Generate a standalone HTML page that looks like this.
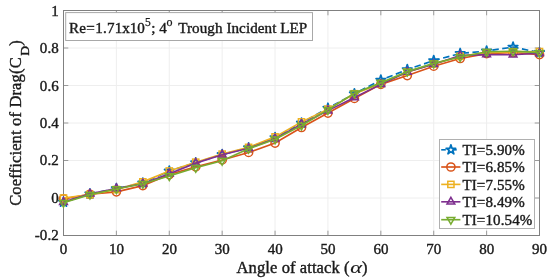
<!DOCTYPE html>
<html lang="en"><head><meta charset="utf-8"><title>Coefficient of Drag vs Angle of attack</title>
<style>html,body{margin:0;padding:0;background:#fff;}body{width:550px;height:280px;overflow:hidden;}svg{display:block;}text{font-family:"Liberation Serif","Times New Roman",serif;fill:#1a1a1a;stroke:#1a1a1a;stroke-width:0.4px;}</style>
</head><body>
<svg width="550" height="280" viewBox="0 0 550 280">
<rect x="0" y="0" width="550" height="280" fill="#ffffff"/>
<g stroke="#eeeeee" stroke-width="1" fill="none">
<line x1="116.39" y1="10.50" x2="116.39" y2="235.50"/>
<line x1="169.28" y1="10.50" x2="169.28" y2="235.50"/>
<line x1="222.17" y1="10.50" x2="222.17" y2="235.50"/>
<line x1="275.06" y1="10.50" x2="275.06" y2="235.50"/>
<line x1="327.94" y1="10.50" x2="327.94" y2="235.50"/>
<line x1="380.83" y1="10.50" x2="380.83" y2="235.50"/>
<line x1="433.72" y1="10.50" x2="433.72" y2="235.50"/>
<line x1="486.61" y1="10.50" x2="486.61" y2="235.50"/>
<line x1="63.50" y1="198.00" x2="539.50" y2="198.00"/>
<line x1="63.50" y1="160.50" x2="539.50" y2="160.50"/>
<line x1="63.50" y1="123.00" x2="539.50" y2="123.00"/>
<line x1="63.50" y1="85.50" x2="539.50" y2="85.50"/>
<line x1="63.50" y1="48.00" x2="539.50" y2="48.00"/>
</g>
<g stroke="#9a9a9a" stroke-width="1" fill="none">
<line x1="63.50" y1="235.50" x2="63.50" y2="230.70"/>
<line x1="63.50" y1="10.50" x2="63.50" y2="15.30"/>
<line x1="116.39" y1="235.50" x2="116.39" y2="230.70"/>
<line x1="116.39" y1="10.50" x2="116.39" y2="15.30"/>
<line x1="169.28" y1="235.50" x2="169.28" y2="230.70"/>
<line x1="169.28" y1="10.50" x2="169.28" y2="15.30"/>
<line x1="222.17" y1="235.50" x2="222.17" y2="230.70"/>
<line x1="222.17" y1="10.50" x2="222.17" y2="15.30"/>
<line x1="275.06" y1="235.50" x2="275.06" y2="230.70"/>
<line x1="275.06" y1="10.50" x2="275.06" y2="15.30"/>
<line x1="327.94" y1="235.50" x2="327.94" y2="230.70"/>
<line x1="327.94" y1="10.50" x2="327.94" y2="15.30"/>
<line x1="380.83" y1="235.50" x2="380.83" y2="230.70"/>
<line x1="380.83" y1="10.50" x2="380.83" y2="15.30"/>
<line x1="433.72" y1="235.50" x2="433.72" y2="230.70"/>
<line x1="433.72" y1="10.50" x2="433.72" y2="15.30"/>
<line x1="486.61" y1="235.50" x2="486.61" y2="230.70"/>
<line x1="486.61" y1="10.50" x2="486.61" y2="15.30"/>
<line x1="539.50" y1="235.50" x2="539.50" y2="230.70"/>
<line x1="539.50" y1="10.50" x2="539.50" y2="15.30"/>
<line x1="63.50" y1="235.50" x2="68.30" y2="235.50"/>
<line x1="539.50" y1="235.50" x2="534.70" y2="235.50"/>
<line x1="63.50" y1="198.00" x2="68.30" y2="198.00"/>
<line x1="539.50" y1="198.00" x2="534.70" y2="198.00"/>
<line x1="63.50" y1="160.50" x2="68.30" y2="160.50"/>
<line x1="539.50" y1="160.50" x2="534.70" y2="160.50"/>
<line x1="63.50" y1="123.00" x2="68.30" y2="123.00"/>
<line x1="539.50" y1="123.00" x2="534.70" y2="123.00"/>
<line x1="63.50" y1="85.50" x2="68.30" y2="85.50"/>
<line x1="539.50" y1="85.50" x2="534.70" y2="85.50"/>
<line x1="63.50" y1="48.00" x2="68.30" y2="48.00"/>
<line x1="539.50" y1="48.00" x2="534.70" y2="48.00"/>
<line x1="63.50" y1="10.50" x2="68.30" y2="10.50"/>
<line x1="539.50" y1="10.50" x2="534.70" y2="10.50"/>
</g>
<rect x="63.5" y="10.5" width="476.0" height="225.0" fill="none" stroke="#808080" stroke-width="1"/>
<g fill="none" stroke-linejoin="miter">
<polyline points="63.50,202.12 89.94,193.88 116.39,188.62 142.83,183.00 169.28,171.00 195.72,162.75 222.17,154.50 248.61,147.75 275.06,137.62 301.50,123.00 327.94,108.19 354.39,93.75 380.83,80.06 407.28,69.56 433.72,60.56 460.17,53.44 486.61,51.00 513.06,47.06 539.50,52.50" stroke="#0072BD" stroke-width="1.65" stroke-dasharray="6.5,3.5" stroke-dashoffset="1.7"/>
<g stroke="#0072BD" stroke-width="1.5">
<polygon stroke-linejoin="round" stroke-width="1.7" points="63.50,197.12 64.59,200.63 68.26,200.58 65.26,202.70 66.44,206.17 63.50,203.97 60.56,206.17 61.74,202.70 58.74,200.58 62.41,200.63"/>
<polygon stroke-linejoin="round" stroke-width="1.7" points="89.94,188.88 91.03,192.38 94.70,192.33 91.70,194.45 92.88,197.92 89.94,195.72 87.01,197.92 88.18,194.45 85.19,192.33 88.86,192.38"/>
<polygon stroke-linejoin="round" stroke-width="1.7" points="116.39,183.62 117.48,187.13 121.14,187.08 118.15,189.20 119.33,192.67 116.39,190.47 113.45,192.67 114.63,189.20 111.63,187.08 115.30,187.13"/>
<polygon stroke-linejoin="round" stroke-width="1.7" points="142.83,178.00 143.92,181.50 147.59,181.45 144.59,183.57 145.77,187.05 142.83,184.85 139.89,187.05 141.07,183.57 138.08,181.45 141.75,181.50"/>
<polygon stroke-linejoin="round" stroke-width="1.7" points="169.28,166.00 170.37,169.50 174.03,169.45 171.04,171.57 172.22,175.05 169.28,172.85 166.34,175.05 167.52,171.57 164.52,169.45 168.19,169.50"/>
<polygon stroke-linejoin="round" stroke-width="1.7" points="195.72,157.75 196.81,161.25 200.48,161.20 197.48,163.32 198.66,166.80 195.72,164.60 192.78,166.80 193.96,163.32 190.97,161.20 194.63,161.25"/>
<polygon stroke-linejoin="round" stroke-width="1.7" points="222.17,149.50 223.25,153.00 226.92,152.95 223.93,155.07 225.11,158.55 222.17,156.35 219.23,158.55 220.41,155.07 217.41,152.95 221.08,153.00"/>
<polygon stroke-linejoin="round" stroke-width="1.7" points="248.61,142.75 249.70,146.25 253.37,146.20 250.37,148.32 251.55,151.80 248.61,149.60 245.67,151.80 246.85,148.32 243.86,146.20 247.52,146.25"/>
<polygon stroke-linejoin="round" stroke-width="1.7" points="275.06,132.62 276.14,136.13 279.81,136.08 276.82,138.20 277.99,141.67 275.06,139.47 272.12,141.67 273.30,138.20 270.30,136.08 273.97,136.13"/>
<polygon stroke-linejoin="round" stroke-width="1.7" points="301.50,118.00 302.59,121.50 306.26,121.45 303.26,123.57 304.44,127.05 301.50,124.85 298.56,127.05 299.74,123.57 296.74,121.45 300.41,121.50"/>
<polygon stroke-linejoin="round" stroke-width="1.7" points="327.94,103.19 329.03,106.69 332.70,106.64 329.70,108.76 330.88,112.23 327.94,110.04 325.01,112.23 326.18,108.76 323.19,106.64 326.86,106.69"/>
<polygon stroke-linejoin="round" stroke-width="1.7" points="354.39,88.75 355.48,92.25 359.14,92.20 356.15,94.32 357.33,97.80 354.39,95.60 351.45,97.80 352.63,94.32 349.63,92.20 353.30,92.25"/>
<polygon stroke-linejoin="round" stroke-width="1.7" points="380.83,75.06 381.92,78.57 385.59,78.52 382.59,80.63 383.77,84.11 380.83,81.91 377.89,84.11 379.07,80.63 376.08,78.52 379.75,78.57"/>
<polygon stroke-linejoin="round" stroke-width="1.7" points="407.28,64.56 408.37,68.07 412.03,68.02 409.04,70.13 410.22,73.61 407.28,71.41 404.34,73.61 405.52,70.13 402.52,68.02 406.19,68.07"/>
<polygon stroke-linejoin="round" stroke-width="1.7" points="433.72,55.56 434.81,59.07 438.48,59.02 435.48,61.13 436.66,64.61 433.72,62.41 430.78,64.61 431.96,61.13 428.97,59.02 432.63,59.07"/>
<polygon stroke-linejoin="round" stroke-width="1.7" points="460.17,48.44 461.25,51.94 464.92,51.89 461.93,54.01 463.11,57.48 460.17,55.29 457.23,57.48 458.41,54.01 455.41,51.89 459.08,51.94"/>
<polygon stroke-linejoin="round" stroke-width="1.7" points="486.61,46.00 487.70,49.50 491.37,49.45 488.37,51.57 489.55,55.05 486.61,52.85 483.67,55.05 484.85,51.57 481.86,49.45 485.52,49.50"/>
<polygon stroke-linejoin="round" stroke-width="1.7" points="513.06,42.06 514.14,45.57 517.81,45.52 514.82,47.63 515.99,51.11 513.06,48.91 510.12,51.11 511.30,47.63 508.30,45.52 511.97,45.57"/>
<polygon stroke-linejoin="round" stroke-width="1.7" points="539.50,47.50 540.59,51.00 544.26,50.95 541.26,53.07 542.44,56.55 539.50,54.35 536.56,56.55 537.74,53.07 534.74,50.95 538.41,51.00"/>
</g>
<polyline points="63.50,198.94 89.94,194.25 116.39,191.81 142.83,185.62 169.28,174.56 195.72,166.88 222.17,159.94 248.61,152.44 275.06,143.06 301.50,127.50 327.94,113.06 354.39,98.44 380.83,84.37 407.28,75.56 433.72,66.19 460.17,58.50 486.61,53.62 513.06,52.50 539.50,54.56" stroke="#D95319" stroke-width="1.65"/>
<g stroke="#D95319" stroke-width="1.5">
<circle cx="63.50" cy="198.94" r="4.10"/>
<circle cx="89.94" cy="194.25" r="4.10"/>
<circle cx="116.39" cy="191.81" r="4.10"/>
<circle cx="142.83" cy="185.62" r="4.10"/>
<circle cx="169.28" cy="174.56" r="4.10"/>
<circle cx="195.72" cy="166.88" r="4.10"/>
<circle cx="222.17" cy="159.94" r="4.10"/>
<circle cx="248.61" cy="152.44" r="4.10"/>
<circle cx="275.06" cy="143.06" r="4.10"/>
<circle cx="301.50" cy="127.50" r="4.10"/>
<circle cx="327.94" cy="113.06" r="4.10"/>
<circle cx="354.39" cy="98.44" r="4.10"/>
<circle cx="380.83" cy="84.37" r="4.10"/>
<circle cx="407.28" cy="75.56" r="4.10"/>
<circle cx="433.72" cy="66.19" r="4.10"/>
<circle cx="460.17" cy="58.50" r="4.10"/>
<circle cx="486.61" cy="53.62" r="4.10"/>
<circle cx="513.06" cy="52.50" r="4.10"/>
<circle cx="539.50" cy="54.56" r="4.10"/>
</g>
<polyline points="63.50,198.00 89.94,194.62 116.39,189.56 142.83,181.88 169.28,171.00 195.72,162.19 222.17,154.12 248.61,147.38 275.06,136.88 301.50,121.87 327.94,109.13 354.39,93.75 380.83,83.62 407.28,72.00 433.72,63.94 460.17,56.25 486.61,52.69 513.06,51.75 539.50,51.56" stroke="#EDB120" stroke-width="1.65"/>
<g stroke="#EDB120" stroke-width="1.5">
<rect x="60.40" y="194.90" width="6.20" height="6.20"/>
<rect x="86.84" y="191.53" width="6.20" height="6.20"/>
<rect x="113.29" y="186.46" width="6.20" height="6.20"/>
<rect x="139.73" y="178.78" width="6.20" height="6.20"/>
<rect x="166.18" y="167.90" width="6.20" height="6.20"/>
<rect x="192.62" y="159.09" width="6.20" height="6.20"/>
<rect x="219.07" y="151.03" width="6.20" height="6.20"/>
<rect x="245.51" y="144.28" width="6.20" height="6.20"/>
<rect x="271.96" y="133.78" width="6.20" height="6.20"/>
<rect x="298.40" y="118.77" width="6.20" height="6.20"/>
<rect x="324.84" y="106.03" width="6.20" height="6.20"/>
<rect x="351.29" y="90.65" width="6.20" height="6.20"/>
<rect x="377.73" y="80.53" width="6.20" height="6.20"/>
<rect x="404.18" y="68.90" width="6.20" height="6.20"/>
<rect x="430.62" y="60.84" width="6.20" height="6.20"/>
<rect x="457.07" y="53.15" width="6.20" height="6.20"/>
<rect x="483.51" y="49.59" width="6.20" height="6.20"/>
<rect x="509.96" y="48.65" width="6.20" height="6.20"/>
<rect x="536.40" y="48.46" width="6.20" height="6.20"/>
</g>
<polyline points="63.50,202.12 89.94,193.88 116.39,188.44 142.83,183.75 169.28,173.81 195.72,163.12 222.17,154.69 248.61,148.31 275.06,138.75 301.50,124.31 327.94,110.62 354.39,97.50 380.83,84.37 407.28,72.00 433.72,64.31 460.17,55.50 486.61,54.56 513.06,54.75 539.50,53.25" stroke="#7E2F8E" stroke-width="1.65"/>
<g stroke="#7E2F8E" stroke-width="1.5">
<polygon points="63.50,197.62 67.40,204.38 59.60,204.38"/>
<polygon points="89.94,189.38 93.84,196.12 86.05,196.12"/>
<polygon points="116.39,183.94 120.29,190.69 112.49,190.69"/>
<polygon points="142.83,179.25 146.73,186.00 138.94,186.00"/>
<polygon points="169.28,169.31 173.17,176.06 165.38,176.06"/>
<polygon points="195.72,158.62 199.62,165.38 191.83,165.38"/>
<polygon points="222.17,150.19 226.06,156.94 218.27,156.94"/>
<polygon points="248.61,143.81 252.51,150.56 244.71,150.56"/>
<polygon points="275.06,134.25 278.95,141.00 271.16,141.00"/>
<polygon points="301.50,119.81 305.40,126.56 297.60,126.56"/>
<polygon points="327.94,106.12 331.84,112.88 324.05,112.88"/>
<polygon points="354.39,93.00 358.29,99.75 350.49,99.75"/>
<polygon points="380.83,79.87 384.73,86.62 376.94,86.62"/>
<polygon points="407.28,67.50 411.17,74.25 403.38,74.25"/>
<polygon points="433.72,59.81 437.62,66.56 429.83,66.56"/>
<polygon points="460.17,51.00 464.06,57.75 456.27,57.75"/>
<polygon points="486.61,50.06 490.51,56.81 482.71,56.81"/>
<polygon points="513.06,50.25 516.95,57.00 509.16,57.00"/>
<polygon points="539.50,48.75 543.40,55.50 535.60,55.50"/>
</g>
<polyline points="63.50,202.69 89.94,194.62 116.39,189.00 142.83,183.75 169.28,176.06 195.72,167.81 222.17,160.69 248.61,148.69 275.06,139.31 301.50,125.44 327.94,109.88 354.39,93.19 380.83,82.88 407.28,71.62 433.72,63.38 460.17,57.00 486.61,51.75 513.06,51.19 539.50,52.69" stroke="#77AC30" stroke-width="1.65"/>
<g stroke="#77AC30" stroke-width="1.5">
<polygon points="63.50,207.19 67.40,200.44 59.60,200.44"/>
<polygon points="89.94,199.12 93.84,192.38 86.05,192.38"/>
<polygon points="116.39,193.50 120.29,186.75 112.49,186.75"/>
<polygon points="142.83,188.25 146.73,181.50 138.94,181.50"/>
<polygon points="169.28,180.56 173.17,173.81 165.38,173.81"/>
<polygon points="195.72,172.31 199.62,165.56 191.83,165.56"/>
<polygon points="222.17,165.19 226.06,158.44 218.27,158.44"/>
<polygon points="248.61,153.19 252.51,146.44 244.71,146.44"/>
<polygon points="275.06,143.81 278.95,137.06 271.16,137.06"/>
<polygon points="301.50,129.94 305.40,123.19 297.60,123.19"/>
<polygon points="327.94,114.38 331.84,107.63 324.05,107.63"/>
<polygon points="354.39,97.69 358.29,90.94 350.49,90.94"/>
<polygon points="380.83,87.38 384.73,80.62 376.94,80.62"/>
<polygon points="407.28,76.12 411.17,69.37 403.38,69.37"/>
<polygon points="433.72,67.88 437.62,61.12 429.83,61.12"/>
<polygon points="460.17,61.50 464.06,54.75 456.27,54.75"/>
<polygon points="486.61,56.25 490.51,49.50 482.71,49.50"/>
<polygon points="513.06,55.69 516.95,48.94 509.16,48.94"/>
<polygon points="539.50,57.19 543.40,50.44 535.60,50.44"/>
</g>
</g>
<g font-size="15">
<text x="63.60" y="253.6" text-anchor="middle">0</text>
<text x="116.49" y="253.6" text-anchor="middle">10</text>
<text x="169.38" y="253.6" text-anchor="middle">20</text>
<text x="222.27" y="253.6" text-anchor="middle">30</text>
<text x="275.16" y="253.6" text-anchor="middle">40</text>
<text x="328.04" y="253.6" text-anchor="middle">50</text>
<text x="380.93" y="253.6" text-anchor="middle">60</text>
<text x="433.82" y="253.6" text-anchor="middle">70</text>
<text x="486.71" y="253.6" text-anchor="middle">80</text>
<text x="539.60" y="253.6" text-anchor="middle">90</text>
<text x="58.9" y="240.00" text-anchor="end" letter-spacing="0.12">-0.2</text>
<text x="58.9" y="202.65" text-anchor="end" letter-spacing="0.12">0</text>
<text x="58.9" y="165.30" text-anchor="end" letter-spacing="0.12">0.2</text>
<text x="58.9" y="127.95" text-anchor="end" letter-spacing="0.12">0.4</text>
<text x="58.9" y="90.60" text-anchor="end" letter-spacing="0.12">0.6</text>
<text x="58.9" y="53.25" text-anchor="end" letter-spacing="0.12">0.8</text>
<text x="58.9" y="15.90" text-anchor="end" letter-spacing="0.12">1</text>
</g>
<text x="236.6" y="273" font-size="16.5" letter-spacing="0.1">Angle of attack (</text>
<text transform="translate(350.3,273) scale(1.36,1)" font-size="16.5" font-style="italic" style="stroke-width:0.12px">α</text>
<text x="361.9" y="273" font-size="16.5">)</text>
<text transform="translate(20.8,123) rotate(-90)" font-size="16.5" letter-spacing="0.155" text-anchor="middle">Coefficient of Drag(C<tspan font-size="13.5" dy="8.4" dx="1.4">D</tspan><tspan dy="-8.4" dx="0.1">)</tspan></text>
<rect x="65.7" y="12.6" width="246.8" height="27.9" fill="#ffffff" stroke="#a8a8a8" stroke-width="1"/>
<text x="69" y="33.3" font-size="15.1"><tspan letter-spacing="0.3">Re=1.</tspan>71x10<tspan font-size="11.5" dy="-7.4" dx="0.1" style="stroke-width:0.25px">5</tspan><tspan dy="7.4" dx="0.6">; 4</tspan><tspan font-size="12" dy="-7.4" dx="-0.3" style="stroke-width:0.25px">o</tspan><tspan dy="7.4" dx="2.15" letter-spacing="0.07"> Trough Incident LEP</tspan></text>
<rect x="439.5" y="139.5" width="95" height="89" fill="#ffffff" stroke="#b0b0b0" stroke-width="1"/>
<g fill="none" stroke="#0072BD">
<line x1="441.2" y1="149.80" x2="445.8" y2="149.80" stroke-width="1.65"/>
<line x1="453.5" y1="149.80" x2="456.7" y2="149.80" stroke-width="1.65"/>
<g stroke-width="1.5"><polygon stroke-linejoin="round" stroke-width="1.7" points="450.90,144.80 451.99,148.30 455.66,148.25 452.66,150.37 453.84,153.85 450.90,151.65 447.96,153.85 449.14,150.37 446.14,148.25 449.81,148.30"/></g>
</g>
<text x="462.4" y="155.00" font-size="15" letter-spacing="0.13">TI=5.90%</text>
<g fill="none" stroke="#D95319">
<line x1="441.2" y1="167.00" x2="460.4" y2="167.00" stroke-width="1.65"/>
<g stroke-width="1.5"><circle cx="450.90" cy="167.00" r="4.10"/></g>
</g>
<text x="462.4" y="172.20" font-size="15" letter-spacing="0.13">TI=6.85%</text>
<g fill="none" stroke="#EDB120">
<line x1="441.2" y1="184.40" x2="460.4" y2="184.40" stroke-width="1.65"/>
<g stroke-width="1.5"><rect x="447.80" y="181.30" width="6.20" height="6.20"/></g>
</g>
<text x="462.4" y="189.60" font-size="15" letter-spacing="0.13">TI=7.55%</text>
<g fill="none" stroke="#7E2F8E">
<line x1="441.2" y1="201.80" x2="460.4" y2="201.80" stroke-width="1.65"/>
<g stroke-width="1.5"><polygon points="450.90,197.30 454.80,204.05 447.00,204.05"/></g>
</g>
<text x="462.4" y="207.00" font-size="15" letter-spacing="0.13">TI=8.49%</text>
<g fill="none" stroke="#77AC30">
<line x1="441.2" y1="219.70" x2="460.4" y2="219.70" stroke-width="1.65"/>
<g stroke-width="1.5"><polygon points="450.90,224.20 454.80,217.45 447.00,217.45"/></g>
</g>
<text x="462.4" y="224.60" font-size="15" letter-spacing="0.13">TI=10.54%</text>
</svg>
</body></html>
